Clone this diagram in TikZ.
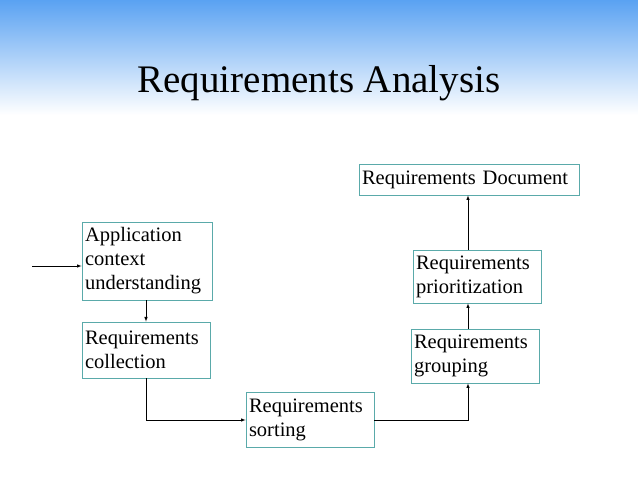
\documentclass[tikz,border=0pt]{standalone}
\usepackage{fontspec}
\setmainfont{Liberation Serif}
\definecolor{bord}{HTML}{5AAAAA}
\definecolor{topblue}{HTML}{5AA2F2}
\begin{document}
\begin{tikzpicture}[x=1pt,y=-1pt,
  bx/.style={draw=bord,line width=0.8pt,fill=white,inner sep=3pt,align=left,font=\fontsize{20.5}{24}\selectfont},
  ar/.style={-latex,line width=0.6pt}]
\useasboundingbox (0,0) rectangle (638,478);
\fill[white] (0,0) rectangle (638,478);
\shade[top color=topblue,bottom color=white] (0,0) rectangle (638,115);
\node (title) at (319,83) {\fontsize{39}{43}\selectfont Requirements Analysis};
\newcommand\bxat[6]{\node[bx,minimum width=#3-#2,minimum height=#5-#4,text width=#3-#2-6] (#1) at ({(#2+#3)/2},{(#4+#5)/2}) {#6};}
\bxat{app}{82}{212}{222}{300}{Application\\context\\understanding}
\bxat{col}{82}{210}{322}{378}{Requirements\\collection}
\bxat{sor}{246}{374}{392}{447}{Requirements\\sorting}
\bxat{grp}{411}{539}{329}{383}{Requirements\\grouping}
\bxat{pri}{413}{541}{250}{303}{Requirements\\prioritization}
\bxat{doc}{359}{579}{164}{195}{Requirements Document}
\coordinate (in) at (32,266);
\draw[ar] (in) -- (app.west|-in);
\draw[ar] (app.south-|146,0) -- (col.north-|146,0);
\draw[ar] (col.south-|146,0) |- (sor.west|-0,420);
\draw[ar] (sor.east|-0,420) -| (grp.south-|468,0);
\draw[ar] (grp.north-|468,0) -- (pri.south-|468,0);
\draw[ar] (pri.north-|468,0) -- (doc.south-|468,0);
\end{tikzpicture}
\end{document}
